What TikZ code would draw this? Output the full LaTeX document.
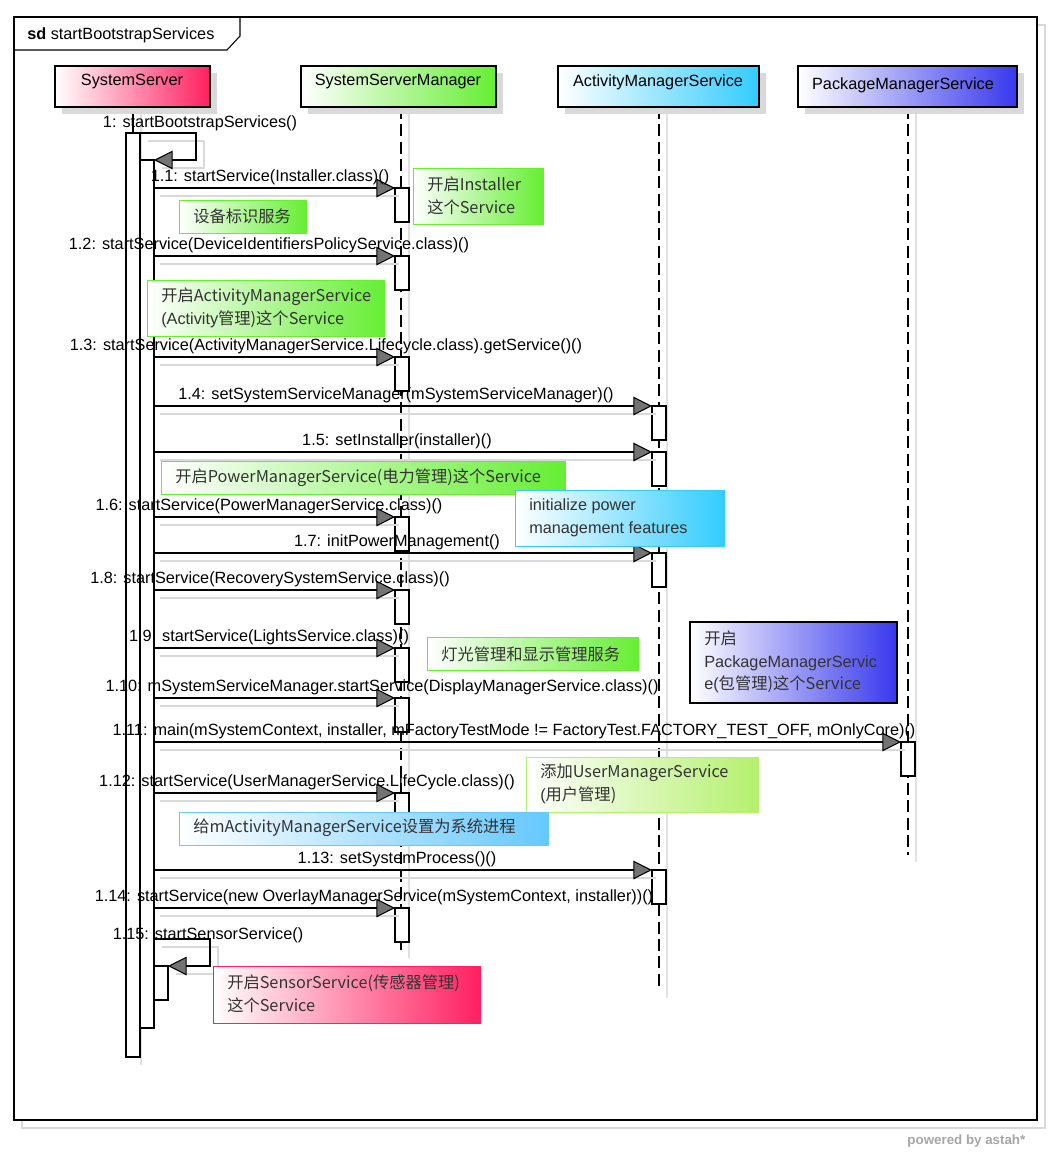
\documentclass[tikz,border=0pt]{standalone}
\usepackage{fontspec}
\setmainfont{Liberation Sans}
\newfontfamily\cjk{Noto Sans CJK SC}
\usetikzlibrary{arrows.meta}
\definecolor{cPink}{HTML}{FF2060}
\definecolor{cGreen}{HTML}{66EE33}
\definecolor{cLime}{HTML}{B4F06E}
\definecolor{cCyan}{HTML}{33CCFF}
\definecolor{cSky}{HTML}{66C8FF}
\definecolor{cBlue}{HTML}{3838EE}
\tikzset{
  head/.style={draw=black, line width=2.2pt, left color=white, right color=#1},
  shadowbox/.style={fill=black!15, draw=none},
  note/.style={draw=#1, left color=white, right color=#1},
  act/.style={draw=black, fill=white, line width=0.8pt},
  life/.style={dash pattern=on 9pt off 4pt, line width=0.8pt},
  msg/.style={line width=0.8pt, -{Triangle[length=14pt,width=14pt,fill=black!55]}},
  msgshadow/.style={draw=black!15, line width=0.8pt},
  lbl/.style={inner sep=0pt, text=black},
  ntxt/.style={anchor=west, align=left, inner sep=0pt, text=black!80}
}
\newcommand{\msgto}[5]{% name, y, x end, label, label x
  \coordinate (#1s) at (154,#2);
  \coordinate (#1e) at (#3,#2);
  \draw[msgshadow] (160,#2+8) -- (#3+4,#2+8);
  \draw[msg] (#1s) -- (#1e);
  \node[lbl] (#1l) at (#5,#2-11) {#4};
}
\begin{document}
\begin{tikzpicture}[x=0.75pt,y=-0.75pt,font=\fontsize{12.2}{17}\selectfont]
\useasboundingbox (0,0) rectangle (1051,1154);
% frame
\draw[black!15, line width=1pt] (22,25) rectangle (1045,1128);
\draw[fill=white, line width=0.8pt] (14,17) rectangle (1037,1120);
\draw[line width=0.8pt] (14,50) -- (227,50) -- (240,36) -- (240,17);
\node[anchor=west, inner sep=0pt] (sd) at (27,35) {\textbf{sd} startBootstrapServices};

% lifelines
\draw[black!12, line width=1pt] (141,107) -- (141,1065);
\draw[black!12, line width=1pt] (409,107) -- (409,958);
\draw[black!12, line width=1pt] (667,107) -- (667,998);
\draw[black!12, line width=1pt] (916,107) -- (916,862);
\draw[life] (401,107) -- (401,950);
\draw[life] (659,107) -- (659,990);
\draw[life] (908,107) -- (908,855);
\draw[line width=0.8pt] (133,107) -- (133,133);

\fill[shadowbox] (62,73) rectangle (217,114);
\fill[shadowbox] (308,73) rectangle (503,114);
\fill[shadowbox] (565,73) rectangle (766,114);
\fill[shadowbox] (805,73) rectangle (1024,114);
\draw[head=cPink] (55,66) rectangle (210,107);
\draw[head=cGreen] (301,66) rectangle (496,107);
\draw[head=cCyan] (558,66) rectangle (759,107);
\draw[head=cBlue] (798,66) rectangle (1017,107);
\node (ss) at (132,82) {SystemServer};
\node (ssm) at (398,82) {SystemServerManager};
\node (ams) at (658,82) {ActivityManagerService};
\node (pms) at (903,85) {PackageManagerService};

% activations of SystemServer
\draw[act] (126,133) rectangle (140,1057);
\draw[act] (140,160) rectangle (154,1028);
\draw[act] (154,966) rectangle (168,1000);

% activations of targets
\foreach \ya in {188,256,357,517,590,648,698,793,908}
  \draw[act] (395,\ya) rectangle (409,\ya+34);
\foreach \ya in {406,452,553,870}
  \draw[act] (652,\ya) rectangle (666,\ya+34);
\draw[act] (901,742) rectangle (915,776);

% self call 1
\coordinate (c1a) at (140,133);
\coordinate (c1b) at (154,160);
\draw[black!15, line width=0.8pt] (148,141) -- (204,141) -- (204,168) -- (162,168);
\draw[msg] (c1a) -- (196,133) -- (196,160) -- (c1b);
\node[lbl] (c1l) at (200,123) {1: startBootstrapServices()};

% messages
\msgto{m1}{188}{395}{1.1: startService(Installer.class)()}{270}
\msgto{m2}{256}{395}{1.2: startService(DeviceIdentifiersPolicyService.class)()}{269}
\msgto{m3}{357}{395}{1.3: startService(ActivityManagerService.Lifecycle.class).getService()()}{326}
\msgto{m4}{406}{652}{1.4: setSystemServiceManager(mSystemServiceManager)()}{396}
\msgto{m5}{452}{652}{1.5: setInstaller(installer)()}{397}
\msgto{m6}{517}{395}{1.6: startService(PowerManagerService.class)()}{269}
\msgto{m7}{553}{652}{1.7: initPowerManagement()}{397}
\msgto{m8}{590}{395}{1.8: startService(RecoverySystemService.class)()}{270}
\msgto{m9}{648}{395}{1.9: startService(LightsService.class)()}{269}
\msgto{m10}{698}{395}{1.10: mSystemServiceManager.startService(DisplayManagerService.class)()}{382}
\msgto{m11}{742}{901}{1.11: main(mSystemContext, installer,  mFactoryTestMode != FactoryTest.FACTORY\_TEST\_OFF, mOnlyCore)()}{514}
\msgto{m12}{793}{395}{1.12: startService(UserManagerService.LifeCycle.class)()}{307}
\msgto{m13}{870}{652}{1.13: setSystemProcess()()}{397}
\msgto{m14}{908}{395}{1.14: startService(new OverlayManagerService(mSystemContext, installer))()}{374}

% self call 1.15
\coordinate (c15a) at (154,939);
\coordinate (c15b) at (168,966);
\draw[black!15, line width=0.8pt] (162,947) -- (218,947) -- (218,974) -- (176,974);
\draw[msg] (c15a) -- (210,939) -- (210,966) -- (c15b);
\node[lbl] (c15l) at (208,935) {1.15: startSensorService()};

% notes
\draw[note=cGreen] (413,168) rectangle (543,224);
\node[ntxt] (n1) at (427,196) {\cjk{开启}Installer\\\cjk{这个}Service};
\draw[note=cGreen] (179,200) rectangle (306,233);
\node[ntxt] (n2) at (193,216) {\cjk{设备标识服务}};
\draw[note=cGreen] (147,280) rectangle (384,336);
\node[ntxt] (n3) at (161,308) {\cjk{开启}ActivityManagerService\\(Activity\cjk{管理})\cjk{这个}Service};
\draw[note=cGreen] (161,461) rectangle (565,494);
\node[ntxt] (n4) at (175,478) {\cjk{开启}PowerManagerService(\cjk{电力管理})\cjk{这个}Service};
\draw[note=cCyan] (515,490) rectangle (724,546);
\node[ntxt] (n5) at (529,518) {initialize power\\management features};
\draw[note=cGreen] (427,637) rectangle (638,670);
\node[ntxt] (n6) at (441,654) {\cjk{灯光管理和显示管理服务}};
\draw[note=cBlue, draw=black, line width=2.2pt] (690,622) rectangle (897,703);
\node[ntxt] (n7) at (704,662) {\cjk{开启}\\PackageManagerServic\\e(\cjk{包管理})\cjk{这个}Service};
\draw[note=cLime] (526,757) rectangle (758,812);
\node[ntxt] (n8) at (540,784) {\cjk{添加}UserManagerService\\(\cjk{用户管理})};
\draw[note=cSky] (179,812) rectangle (548,845);
\node[ntxt] (n9) at (193,828) {\cjk{给}mActivityManagerService\cjk{设置为系统进程}};
\draw[note=cPink] (213,966) rectangle (480,1023);
\node[ntxt] (n10) at (227,994) {\cjk{开启}SensorService(\cjk{传感器管理})\\\cjk{这个}Service};

% footer
\node[anchor=east, text=black!35, font=\fontsize{10}{11}\selectfont\bfseries] (astah) at (1030,1141) {powered by astah*};
\end{tikzpicture}
\end{document}
